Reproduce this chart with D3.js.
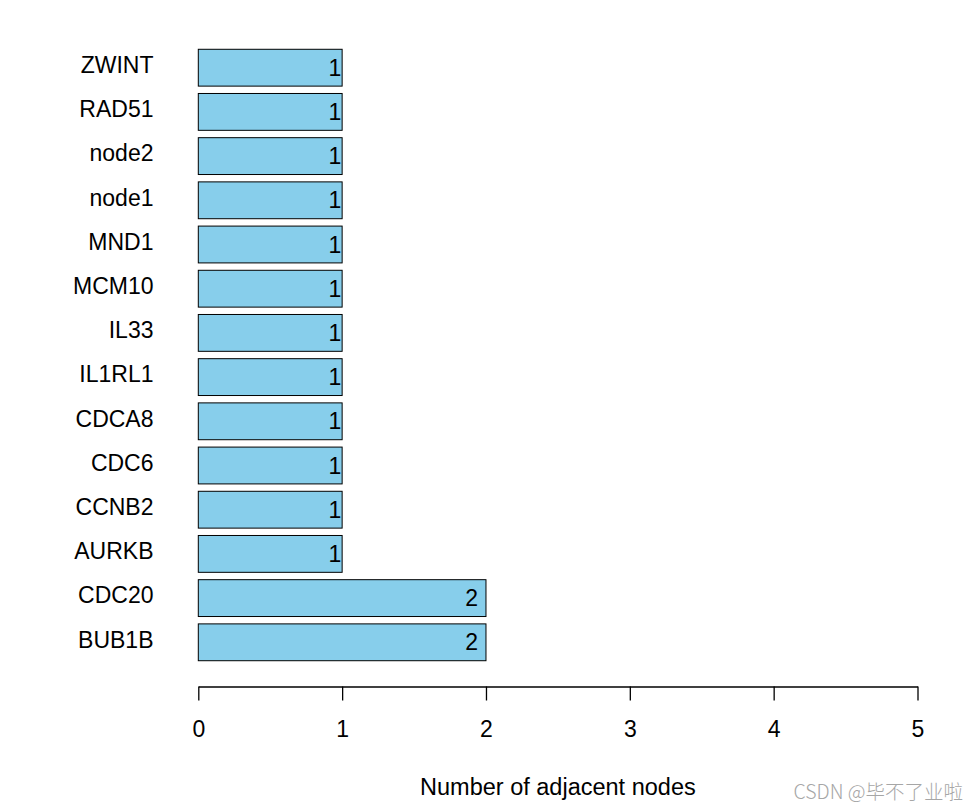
<!DOCTYPE html>
<html>
<head>
<meta charset="utf-8">
<script src="https://cdn.jsdelivr.net/npm/d3@7"></script>
<style>
  html, body { margin: 0; padding: 0; background: #fff; }
  svg { display: block; }
</style>
</head>
<body>
<svg id="chart" width="979" height="810"></svg>
<script>
// Data (bottom to top)
const genes = ["BUB1B", "CDC20", "AURKB", "CCNB2", "CDC6", "CDCA8", "IL1RL1", "IL33", "MCM10", "MND1", "node1", "node2", "RAD51", "ZWINT"];
const counts = [2, 2, 1, 1, 1, 1, 1, 1, 1, 1, 1, 1, 1, 1];
const xTicks = [0, 1, 2, 3, 4, 5];
const xTitle = "Number of adjacent nodes";
const watermark = "CSDN @毕不了业啦";

const svg = d3.select("#chart");
const font = "Arial, 'Liberation Sans', sans-serif";

const x = d3.scaleLinear().domain([0, 5]).range([198.3, 917.5]);
const y = d3.scaleBand()
  .domain(genes.slice().reverse())
  .range([45.6, 664.4])
  .paddingInner(1 / 6)
  .paddingOuter(1 / 12);

const data = genes.map((g, i) => ({ gene: g, value: counts[i] }));

// Bars
svg.append("g").selectAll("rect").data(data).join("rect")
  .attr("x", x(0))
  .attr("y", d => y(d.gene))
  .attr("width", d => x(d.value) - x(0))
  .attr("height", y.bandwidth())
  .attr("fill", "#87CEEB")
  .attr("stroke", "#000")
  .attr("stroke-width", 1);

// Value labels
svg.append("g").selectAll("text").data(data).join("text")
  .attr("x", d => x(d.value * 0.95))
  .attr("y", d => y(d.gene) + y.bandwidth() / 2 + 8)
  .attr("text-anchor", "middle")
  .attr("font-family", font)
  .attr("font-size", 23)
  .attr("fill", "#000")
  .text(d => d.value);

// Category labels
svg.append("g").selectAll("text").data(data).join("text")
  .attr("x", 153.5)
  .attr("y", d => y(d.gene) + y.bandwidth() / 2 + 5.2)
  .attr("text-anchor", "end")
  .attr("font-family", font)
  .attr("font-size", 23)
  .attr("fill", "#000")
  .text(d => d.gene);

// X axis
const axis = d3.axisBottom(x).tickValues(xTicks).tickFormat(d3.format("d"))
  .tickSize(14).tickPadding(20).tickSizeOuter(0);
const gx = svg.append("g").attr("transform", "translate(0,686.5)").call(axis);
gx.select(".domain").attr("stroke", "#000").attr("stroke-width", 1.3);
gx.selectAll(".tick line").attr("stroke", "#000").attr("stroke-width", 1.3);
gx.selectAll(".tick text")
  .attr("font-family", font)
  .attr("font-size", 23)
  .attr("fill", "#000");

// X title
svg.append("text")
  .attr("x", (x(0) + x(5)) / 2)
  .attr("y", 795)
  .attr("text-anchor", "middle")
  .attr("font-family", font)
  .attr("font-size", 23.5)
  .attr("fill", "#000")
  .text(xTitle);

// Watermark
svg.append("text")
  .attr("x", 963)
  .attr("y", 799)
  .attr("text-anchor", "end")
  .attr("font-family", "'Noto Sans CJK SC', 'Liberation Sans', sans-serif")
  .attr("font-size", 19.5)
  .attr("font-weight", 300)
  .attr("fill", "#a6a6a6")
  .text(watermark);
</script>
</body>
</html>
